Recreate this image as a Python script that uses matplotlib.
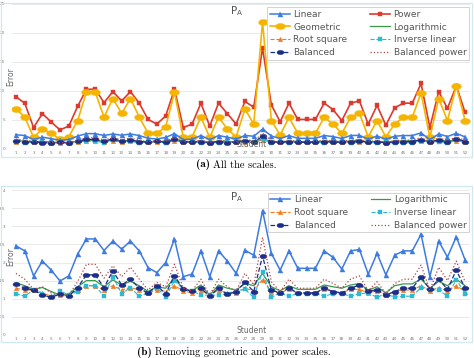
import matplotlib
matplotlib.use("Agg")
import matplotlib.pyplot as plt
import matplotlib.transforms as mtransforms
from matplotlib.path import Path
from matplotlib.patches import Rectangle

students = list(range(1, 53))

power = [9.0, 7.9, 3.7, 6.1, 4.65, 3.3, 3.95, 7.35, 10.3, 10.3,
         8.0, 9.9, 8.3, 9.9, 7.9, 5.1, 4.3, 5.7, 10.3, 3.7,
         4.3, 7.9, 3.95, 7.9, 6.1, 4.3, 8.2, 7.2, 17.4, 7.6,
         4.7, 7.9, 5.1, 5.1, 5.1, 7.9, 6.8, 4.9, 7.9, 8.3,
         4.3, 7.5, 4.1, 7.1, 7.9, 7.9, 11.3, 3.7, 9.9, 7.0,
         10.9, 6.3]
geometric = [6.9, 5.5, 2.0, 3.45, 2.7, 1.67, 2.1, 4.9, 9.8, 9.8,
             5.5, 8.7, 6.15, 8.7, 5.5, 2.7, 2.7, 3.8, 9.8, 2.0,
             2.1, 5.5, 2.0, 5.5, 3.45, 2.1, 6.9, 4.3, 21.9, 4.9,
             2.4, 5.45, 2.7, 2.7, 2.7, 5.45, 4.3, 2.7, 5.45, 6.15,
             2.1, 4.9, 2.1, 4.3, 5.45, 5.45, 9.7, 2.0, 8.7, 4.9,
             10.9, 4.9]
linear = [2.46, 2.32, 1.63, 2.04, 1.79, 1.49, 1.63, 2.23, 2.65, 2.65,
          2.33, 2.59, 2.37, 2.59, 2.32, 1.86, 1.72, 2.0, 2.65, 1.61,
          1.68, 2.32, 1.61, 2.32, 2.04, 1.7, 2.34, 2.2, 3.43, 2.25,
          1.79, 2.32, 1.84, 1.84, 1.84, 2.32, 2.14, 1.82, 2.32, 2.36,
          1.68, 2.25, 1.66, 2.2, 2.32, 2.32, 2.78, 1.61, 2.59, 2.15,
          2.71, 2.07]
logarithmic = [1.44, 1.36, 1.26, 1.31, 1.2, 1.1, 1.13, 1.33, 1.5, 1.5,
               1.33, 1.52, 1.38, 1.48, 1.36, 1.2, 1.33, 1.29, 1.57, 1.26,
               1.22, 1.38, 1.1, 1.38, 1.29, 1.24, 1.42, 1.36, 1.7, 1.33,
               1.22, 1.36, 1.26, 1.26, 1.26, 1.38, 1.33, 1.29, 1.38, 1.42,
               1.24, 1.33, 1.16, 1.36, 1.41, 1.41, 1.54, 1.29, 1.48, 1.36,
               1.54, 1.36]
root_square = [1.29, 1.24, 1.24, 1.16, 1.07, 1.1, 1.1, 1.24, 1.36, 1.36,
               1.24, 1.36, 1.24, 1.31, 1.24, 1.16, 1.24, 1.2, 1.36, 1.22,
               1.16, 1.24, 1.1, 1.24, 1.16, 1.16, 1.29, 1.22, 1.53, 1.2,
               1.16, 1.26, 1.16, 1.16, 1.16, 1.26, 1.2, 1.16, 1.26, 1.26,
               1.16, 1.22, 1.1, 1.2, 1.24, 1.24, 1.36, 1.22, 1.31, 1.22,
               1.36, 1.2]
inverse_linear = [1.14, 1.07, 1.24, 1.14, 1.04, 1.22, 1.1, 1.2, 1.36, 1.36,
                  1.07, 1.61, 1.14, 1.31, 1.07, 1.16, 1.31, 1.04, 1.5, 1.26,
                  1.22, 1.1, 1.1, 1.1, 1.14, 1.22, 1.26, 1.04, 1.75, 1.04,
                  1.16, 1.07, 1.14, 1.14, 1.14, 1.07, 1.14, 1.14, 1.07, 1.14,
                  1.16, 1.04, 1.14, 1.04, 1.07, 1.07, 1.31, 1.24, 1.24, 1.07,
                  1.53, 1.14]
balanced = [1.41, 1.29, 1.24, 1.1, 1.04, 1.13, 1.07, 1.31, 1.66, 1.66,
            1.31, 1.77, 1.38, 1.54, 1.29, 1.16, 1.36, 1.14, 1.64, 1.26,
            1.22, 1.29, 1.07, 1.29, 1.12, 1.2, 1.45, 1.2, 2.18, 1.24,
            1.16, 1.29, 1.16, 1.16, 1.16, 1.29, 1.2, 1.16, 1.29, 1.38,
            1.22, 1.24, 1.1, 1.2, 1.29, 1.29, 1.6, 1.26, 1.54, 1.26,
            1.79, 1.29]
balanced_power = [1.7, 1.54, 1.26, 1.33, 1.16, 1.07, 1.1, 1.47, 1.95, 1.95,
                  1.57, 1.91, 1.61, 1.87, 1.54, 1.24, 1.45, 1.33, 1.95, 1.29,
                  1.22, 1.54, 1.1, 1.54, 1.33, 1.22, 1.7, 1.38, 2.69, 1.47,
                  1.2, 1.54, 1.29, 1.29, 1.29, 1.54, 1.42, 1.29, 1.54, 1.63,
                  1.22, 1.47, 1.14, 1.42, 1.54, 1.54, 1.93, 1.24, 1.87, 1.5,
                  2.04, 1.47]

top_yticks = [0, 5, 10, 15, 20, 25]
bottom_yticks = [0, 0.5, 1, 1.5, 2, 2.5, 3, 3.5, 4]
bottom_ylabels = ["0", "0.5", "1", "1.5", "2", "2.5", "3", "3.5", "4"]

# wide ellipse marker like the original
ell = Path.unit_circle().transformed(mtransforms.Affine2D().scale(1.0, 0.62))

styles = {
    "Linear": dict(color="#3d7be0", ls="-", lw=1.1, marker="^", ms=3.6),
    "Power": dict(color="#dc3a2e", ls="-", lw=1.2, marker="s", ms=3.2),
    "Geometric": dict(color="#f5b400", ls="-", lw=1.2, marker=ell, ms=7),
    "Logarithmic": dict(color="#3a9a4a", ls="-", lw=0.9, marker=None),
    "Root square": dict(color="#f47a1f", ls="--", lw=0.8, marker="^", ms=3.2),
    "Inverse linear": dict(color="#2bbad0", ls="--", lw=0.8, marker="s", ms=2.8),
    "Balanced": dict(color="#1b2f8a", ls="--", lw=0.9, marker=ell, ms=5),
    "Balanced power": dict(color="#b04545", ls=":", lw=0.9, marker=None),
}

W, H = 474, 358
fig = plt.figure(figsize=(W / 100, H / 100), dpi=100)


def frame(y0, y1):
    fig.patches.append(Rectangle((1 / W, 1 - y1 / H), 471 / W, (y1 - y0) / H,
                                 transform=fig.transFigure, fill=False,
                                 ec="#cfe9ee", lw=0.9))


def setup(ax, yticks, ylabels, ylim, ylabel_y):
    ax.set_xlim(0.55, 52.5)
    ax.set_ylim(*ylim)
    ax.set_xticks(students)
    ax.set_xticklabels([str(s) for s in students], fontsize=3, color="#777777")
    ax.set_yticks(yticks)
    ax.set_yticklabels(ylabels, fontsize=3, color="#777777")
    ax.tick_params(length=0, pad=1.5)
    ax.tick_params(axis="y", pad=5)
    for s in ax.spines.values():
        s.set_visible(False)
    ax.grid(axis="y", color="#e6e6e6", lw=0.6)
    ax.set_axisbelow(True)
    blend = mtransforms.blended_transform_factory(fig.transFigure, ax.transAxes)
    ax.text(252 / W, 0.0, "Student", transform=blend,
            ha="center", va="bottom", fontsize=5.5, color="#666666")
    fig.text(10.5 / W, 1 - ylabel_y / H, "Error", rotation=90, ha="center", va="center",
             fontsize=5.5, color="#666666")
    ax.text(237 / W, 0.997, r"$\mathsf{P_A}$", transform=blend,
            ha="center", va="top", fontsize=7.5, color="#555555")


def draw(ax, series):
    handles = {}
    for name, vals in series:
        st = dict(styles[name])
        h, = ax.plot(students, vals, label=name, mfc=st["color"], mec=st["color"], mew=0.3, **st)
        handles[name] = h
    return handles


def style_legend(leg):
    leg.get_frame().set_linewidth(0.6)
    for t in leg.get_texts():
        t.set_color("#555555")


# top panel: all scales
ax1 = fig.add_axes([12 / W, 1 - 149 / H, 457.5 / W, 145 / H])
frame(3, 157)
setup(ax1, top_yticks, [str(t) for t in top_yticks], (0, 25), 77)
h1 = draw(ax1, [("Power", power), ("Geometric", geometric), ("Linear", linear),
                ("Logarithmic", logarithmic), ("Root square", root_square),
                ("Inverse linear", inverse_linear), ("Balanced", balanced),
                ("Balanced power", balanced_power)])
order1 = ["Linear", "Geometric", "Root square", "Balanced",
          "Power", "Logarithmic", "Inverse linear", "Balanced power"]
leg1 = ax1.legend([h1[n] for n in order1], order1, ncol=2, loc="upper right",
                  bbox_to_anchor=(469 / W, 1 - 7 / H), bbox_transform=fig.transFigure,
                  fontsize=6.5, frameon=True, fancybox=False, edgecolor="#cccccc",
                  framealpha=1, handlelength=2.2, handletextpad=0.4,
                  labelspacing=0.42, columnspacing=2.5, borderpad=0.3, borderaxespad=0)
style_legend(leg1)

fig.text(210 / W, 1 - 165 / H, "(a)", ha="right", va="center", family="cmb10", fontsize=8)
fig.text(213 / W, 1 - 165 / H, "All the scales.", ha="left", va="center", family="cmr10", fontsize=7.5)

# bottom panel: without geometric and power
ax2 = fig.add_axes([12 / W, 1 - 335 / H, 457.5 / W, 145 / H])
frame(186, 342)
setup(ax2, bottom_yticks, bottom_ylabels, (0, 4), 257)
h2 = draw(ax2, [("Linear", linear), ("Logarithmic", logarithmic),
                ("Root square", root_square), ("Inverse linear", inverse_linear),
                ("Balanced", balanced), ("Balanced power", balanced_power)])
order2 = ["Linear", "Root square", "Balanced",
          "Logarithmic", "Inverse linear", "Balanced power"]
leg2 = ax2.legend([h2[n] for n in order2], order2, ncol=2, loc="upper right",
                  bbox_to_anchor=(469 / W, 1 - 193 / H), bbox_transform=fig.transFigure,
                  fontsize=6.5, frameon=True, fancybox=False, edgecolor="#cccccc",
                  framealpha=1, handlelength=2.2, handletextpad=0.4,
                  labelspacing=0.42, columnspacing=2.5, borderpad=0.25, borderaxespad=0)
style_legend(leg2)

fig.text(152 / W, 1 - 352 / H, "(b)", ha="right", va="center", family="cmb10", fontsize=8)
fig.text(155 / W, 1 - 352 / H, "Removing geometric and power scales.", ha="left", va="center",
         family="cmr10", fontsize=7.5)

fig.savefig("out.png", dpi=100)
